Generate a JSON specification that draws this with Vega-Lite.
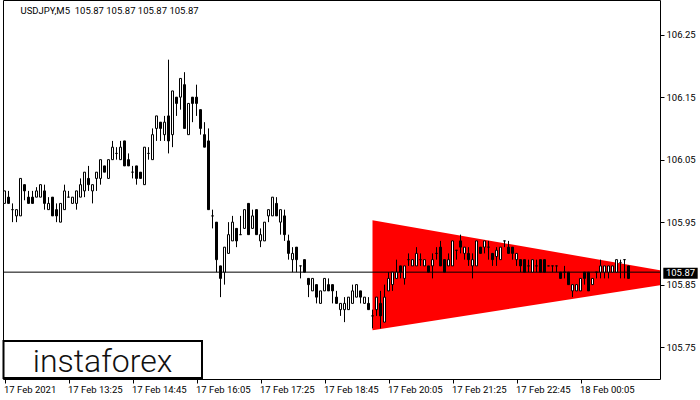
{
  "$schema": "https://vega.github.io/schema/vega-lite/v6.json",
  "width": 657,
  "height": 379,
  "padding": {"left": 2, "top": 0, "right": 0, "bottom": 0},
  "background": "white",
  "config": {
    "view": {"stroke": "black", "strokeWidth": 1}
  },
  "datasets": {
    "candles": [
      {"t":"2021-02-17 12:05","o":105.98,"h":106.00,"l":105.98,"c":106.00},
      {"t":"2021-02-17 12:10","o":105.99,"h":106.00,"l":105.98,"c":105.98},
      {"t":"2021-02-17 12:15","o":105.97,"h":105.98,"l":105.95,"c":105.97},
      {"t":"2021-02-17 12:20","o":105.96,"h":105.97,"l":105.95,"c":105.97},
      {"t":"2021-02-17 12:25","o":105.96,"h":106.02,"l":105.96,"c":106.02},
      {"t":"2021-02-17 12:30","o":106.01,"h":106.01,"l":105.985,"c":106.00},
      {"t":"2021-02-17 12:35","o":105.99,"h":106.00,"l":105.98,"c":105.98},
      {"t":"2021-02-17 12:40","o":105.99,"h":106.00,"l":105.98,"c":105.98},
      {"t":"2021-02-17 12:45","o":105.99,"h":106.006,"l":105.99,"c":106.00},
      {"t":"2021-02-17 12:50","o":105.99,"h":106.01,"l":105.99,"c":106.01},
      {"t":"2021-02-17 12:55","o":106.00,"h":106.01,"l":105.97,"c":105.98},
      {"t":"2021-02-17 13:00","o":105.97,"h":105.99,"l":105.97,"c":105.98},
      {"t":"2021-02-17 13:05","o":105.99,"h":105.99,"l":105.96,"c":105.96},
      {"t":"2021-02-17 13:10","o":105.97,"h":105.98,"l":105.95,"c":105.96},
      {"t":"2021-02-17 13:15","o":105.95,"h":105.98,"l":105.95,"c":105.98},
      {"t":"2021-02-17 13:20","o":105.97,"h":106.01,"l":105.97,"c":106.00},
      {"t":"2021-02-17 13:25","o":105.99,"h":106.00,"l":105.99,"c":105.99},
      {"t":"2021-02-17 13:30","o":105.98,"h":105.99,"l":105.98,"c":105.99},
      {"t":"2021-02-17 13:35","o":105.98,"h":106.00,"l":105.97,"c":106.00},
      {"t":"2021-02-17 13:40","o":105.99,"h":106.02,"l":105.99,"c":106.01},
      {"t":"2021-02-17 13:45","o":106.00,"h":106.03,"l":105.99,"c":106.03},
      {"t":"2021-02-17 13:50","o":106.02,"h":106.04,"l":106.00,"c":106.01},
      {"t":"2021-02-17 13:55","o":106.00,"h":106.01,"l":105.98,"c":106.01},
      {"t":"2021-02-17 14:00","o":106.02,"h":106.03,"l":106.00,"c":106.03},
      {"t":"2021-02-17 14:05","o":106.02,"h":106.05,"l":106.01,"c":106.05},
      {"t":"2021-02-17 14:10","o":106.04,"h":106.04,"l":106.03,"c":106.03},
      {"t":"2021-02-17 14:15","o":106.02,"h":106.05,"l":106.02,"c":106.05},
      {"t":"2021-02-17 14:20","o":106.05,"h":106.08,"l":106.05,"c":106.07},
      {"t":"2021-02-17 14:25","o":106.06,"h":106.07,"l":106.05,"c":106.06},
      {"t":"2021-02-17 14:30","o":106.05,"h":106.08,"l":106.05,"c":106.07},
      {"t":"2021-02-17 14:35","o":106.08,"h":106.08,"l":106.04,"c":106.04},
      {"t":"2021-02-17 14:40","o":106.05,"h":106.06,"l":106.04,"c":106.04},
      {"t":"2021-02-17 14:45","o":106.03,"h":106.04,"l":106.02,"c":106.03},
      {"t":"2021-02-17 14:50","o":106.04,"h":106.04,"l":106.01,"c":106.02},
      {"t":"2021-02-17 14:55","o":106.03,"h":106.03,"l":106.02,"c":106.02},
      {"t":"2021-02-17 15:00","o":106.01,"h":106.07,"l":106.01,"c":106.07},
      {"t":"2021-02-17 15:05","o":106.06,"h":106.07,"l":106.05,"c":106.06},
      {"t":"2021-02-17 15:10","o":106.05,"h":106.10,"l":106.05,"c":106.09},
      {"t":"2021-02-17 15:15","o":106.10,"h":106.12,"l":106.08,"c":106.12},
      {"t":"2021-02-17 15:20","o":106.11,"h":106.11,"l":106.08,"c":106.10},
      {"t":"2021-02-17 15:25","o":106.09,"h":106.12,"l":106.08,"c":106.11},
      {"t":"2021-02-17 15:30","o":106.12,"h":106.21,"l":106.06,"c":106.08},
      {"t":"2021-02-17 15:35","o":106.09,"h":106.16,"l":106.07,"c":106.16},
      {"t":"2021-02-17 15:40","o":106.15,"h":106.15,"l":106.12,"c":106.14},
      {"t":"2021-02-17 15:45","o":106.15,"h":106.18,"l":106.13,"c":106.18},
      {"t":"2021-02-17 15:50","o":106.17,"h":106.19,"l":106.10,"c":106.10},
      {"t":"2021-02-17 15:55","o":106.09,"h":106.14,"l":106.09,"c":106.14},
      {"t":"2021-02-17 16:00","o":106.15,"h":106.15,"l":106.11,"c":106.14},
      {"t":"2021-02-17 16:05","o":106.15,"h":106.17,"l":106.12,"c":106.14},
      {"t":"2021-02-17 16:10","o":106.13,"h":106.13,"l":106.09,"c":106.10},
      {"t":"2021-02-17 16:15","o":106.09,"h":106.11,"l":106.07,"c":106.07},
      {"t":"2021-02-17 16:20","o":106.08,"h":106.10,"l":105.97,"c":105.97},
      {"t":"2021-02-17 16:25","o":105.96,"h":105.97,"l":105.94,"c":105.96},
      {"t":"2021-02-17 16:30","o":105.95,"h":105.95,"l":105.87,"c":105.89},
      {"t":"2021-02-17 16:35","o":105.88,"h":105.88,"l":105.83,"c":105.86},
      {"t":"2021-02-17 16:40","o":105.87,"h":105.91,"l":105.85,"c":105.91},
      {"t":"2021-02-17 16:45","o":105.90,"h":105.95,"l":105.90,"c":105.93},
      {"t":"2021-02-17 16:50","o":105.92,"h":105.96,"l":105.92,"c":105.95},
      {"t":"2021-02-17 16:55","o":105.94,"h":105.94,"l":105.91,"c":105.92},
      {"t":"2021-02-17 17:00","o":105.93,"h":105.96,"l":105.93,"c":105.93},
      {"t":"2021-02-17 17:05","o":105.94,"h":105.97,"l":105.94,"c":105.97},
      {"t":"2021-02-17 17:10","o":105.98,"h":105.98,"l":105.93,"c":105.93},
      {"t":"2021-02-17 17:15","o":105.94,"h":105.97,"l":105.94,"c":105.96},
      {"t":"2021-02-17 17:20","o":105.97,"h":105.97,"l":105.93,"c":105.93},
      {"t":"2021-02-17 17:25","o":105.92,"h":105.94,"l":105.91,"c":105.93},
      {"t":"2021-02-17 17:30","o":105.92,"h":105.95,"l":105.92,"c":105.95},
      {"t":"2021-02-17 17:35","o":105.96,"h":105.97,"l":105.95,"c":105.97},
      {"t":"2021-02-17 17:40","o":105.96,"h":105.99,"l":105.96,"c":105.99},
      {"t":"2021-02-17 17:45","o":105.98,"h":105.99,"l":105.96,"c":105.96},
      {"t":"2021-02-17 17:50","o":105.95,"h":105.97,"l":105.93,"c":105.97},
      {"t":"2021-02-17 17:55","o":105.96,"h":105.97,"l":105.92,"c":105.93},
      {"t":"2021-02-17 18:00","o":105.92,"h":105.93,"l":105.89,"c":105.90},
      {"t":"2021-02-17 18:05","o":105.89,"h":105.91,"l":105.87,"c":105.90},
      {"t":"2021-02-17 18:10","o":105.91,"h":105.91,"l":105.87,"c":105.89},
      {"t":"2021-02-17 18:15","o":105.88,"h":105.88,"l":105.86,"c":105.88},
      {"t":"2021-02-17 18:20","o":105.89,"h":105.89,"l":105.87,"c":105.87},
      {"t":"2021-02-17 18:25","o":105.86,"h":105.86,"l":105.83,"c":105.85},
      {"t":"2021-02-17 18:30","o":105.84,"h":105.86,"l":105.84,"c":105.86},
      {"t":"2021-02-17 18:35","o":105.85,"h":105.85,"l":105.82,"c":105.83},
      {"t":"2021-02-17 18:40","o":105.82,"h":105.84,"l":105.82,"c":105.84},
      {"t":"2021-02-17 18:45","o":105.84,"h":105.86,"l":105.84,"c":105.86},
      {"t":"2021-02-17 18:50","o":105.85,"h":105.86,"l":105.84,"c":105.84},
      {"t":"2021-02-17 18:55","o":105.85,"h":105.85,"l":105.82,"c":105.84},
      {"t":"2021-02-17 19:00","o":105.83,"h":105.84,"l":105.82,"c":105.82},
      {"t":"2021-02-17 19:05","o":105.81,"h":105.82,"l":105.80,"c":105.82},
      {"t":"2021-02-17 19:10","o":105.81,"h":105.83,"l":105.79,"c":105.82},
      {"t":"2021-02-17 19:15","o":105.81,"h":105.83,"l":105.81,"c":105.83},
      {"t":"2021-02-17 19:20","o":105.82,"h":105.85,"l":105.82,"c":105.84},
      {"t":"2021-02-17 19:25","o":105.83,"h":105.85,"l":105.83,"c":105.85},
      {"t":"2021-02-17 19:30","o":105.84,"h":105.84,"l":105.82,"c":105.83},
      {"t":"2021-02-17 19:35","o":105.82,"h":105.83,"l":105.82,"c":105.83},
      {"t":"2021-02-17 19:40","o":105.82,"h":105.83,"l":105.81,"c":105.81},
      {"t":"2021-02-17 19:45","o":105.80,"h":105.81,"l":105.78,"c":105.80},
      {"t":"2021-02-17 19:50","o":105.81,"h":105.83,"l":105.80,"c":105.83},
      {"t":"2021-02-17 19:55","o":105.82,"h":105.84,"l":105.78,"c":105.80},
      {"t":"2021-02-17 20:00","o":105.79,"h":105.85,"l":105.79,"c":105.83},
      {"t":"2021-02-17 20:05","o":105.84,"h":105.87,"l":105.84,"c":105.86},
      {"t":"2021-02-17 20:10","o":105.85,"h":105.87,"l":105.84,"c":105.87},
      {"t":"2021-02-17 20:15","o":105.86,"h":105.89,"l":105.86,"c":105.87},
      {"t":"2021-02-17 20:20","o":105.88,"h":105.88,"l":105.86,"c":105.87},
      {"t":"2021-02-17 20:25","o":105.86,"h":105.88,"l":105.85,"c":105.88},
      {"t":"2021-02-17 20:30","o":105.89,"h":105.90,"l":105.88,"c":105.89},
      {"t":"2021-02-17 20:35","o":105.88,"h":105.89,"l":105.88,"c":105.89},
      {"t":"2021-02-17 20:40","o":105.88,"h":105.91,"l":105.88,"c":105.90},
      {"t":"2021-02-17 20:45","o":105.89,"h":105.90,"l":105.88,"c":105.89},
      {"t":"2021-02-17 20:50","o":105.88,"h":105.89,"l":105.88,"c":105.89},
      {"t":"2021-02-17 20:55","o":105.88,"h":105.88,"l":105.87,"c":105.87},
      {"t":"2021-02-17 21:00","o":105.88,"h":105.90,"l":105.86,"c":105.89},
      {"t":"2021-02-17 21:05","o":105.90,"h":105.91,"l":105.89,"c":105.90},
      {"t":"2021-02-17 21:10","o":105.91,"h":105.92,"l":105.88,"c":105.88},
      {"t":"2021-02-17 21:15","o":105.89,"h":105.89,"l":105.87,"c":105.87},
      {"t":"2021-02-17 21:20","o":105.88,"h":105.90,"l":105.88,"c":105.89},
      {"t":"2021-02-17 21:25","o":105.88,"h":105.92,"l":105.88,"c":105.92},
      {"t":"2021-02-17 21:30","o":105.905,"h":105.905,"l":105.89,"c":105.905},
      {"t":"2021-02-17 21:35","o":105.92,"h":105.93,"l":105.90,"c":105.91},
      {"t":"2021-02-17 21:40","o":105.90,"h":105.91,"l":105.89,"c":105.91},
      {"t":"2021-02-17 21:45","o":105.90,"h":105.91,"l":105.88,"c":105.89},
      {"t":"2021-02-17 21:50","o":105.88,"h":105.90,"l":105.86,"c":105.89},
      {"t":"2021-02-17 21:55","o":105.88,"h":105.92,"l":105.88,"c":105.92},
      {"t":"2021-02-17 22:00","o":105.91,"h":105.91,"l":105.90,"c":105.90},
      {"t":"2021-02-17 22:05","o":105.91,"h":105.92,"l":105.90,"c":105.92},
      {"t":"2021-02-17 22:10","o":105.91,"h":105.92,"l":105.89,"c":105.91},
      {"t":"2021-02-17 22:15","o":105.90,"h":105.90,"l":105.88,"c":105.89},
      {"t":"2021-02-17 22:20","o":105.895,"h":105.91,"l":105.88,"c":105.905},
      {"t":"2021-02-17 22:25","o":105.89,"h":105.91,"l":105.89,"c":105.91},
      {"t":"2021-02-17 22:30","o":105.92,"h":105.92,"l":105.91,"c":105.92},
      {"t":"2021-02-17 22:35","o":105.91,"h":105.92,"l":105.90,"c":105.90},
      {"t":"2021-02-17 22:40","o":105.91,"h":105.91,"l":105.89,"c":105.90},
      {"t":"2021-02-17 22:45","o":105.89,"h":105.90,"l":105.88,"c":105.90},
      {"t":"2021-02-17 22:50","o":105.89,"h":105.89,"l":105.87,"c":105.88},
      {"t":"2021-02-17 22:55","o":105.89,"h":105.89,"l":105.87,"c":105.87},
      {"t":"2021-02-17 23:00","o":105.88,"h":105.89,"l":105.87,"c":105.88},
      {"t":"2021-02-17 23:05","o":105.87,"h":105.89,"l":105.87,"c":105.89},
      {"t":"2021-02-17 23:10","o":105.88,"h":105.89,"l":105.87,"c":105.88},
      {"t":"2021-02-17 23:15","o":105.89,"h":105.89,"l":105.87,"c":105.87},
      {"t":"2021-02-17 23:20","o":105.89,"h":105.89,"l":105.87,"c":105.87},
      {"t":"2021-02-17 23:25","o":105.88,"h":105.88,"l":105.88,"c":105.88},
      {"t":"2021-02-17 23:30","o":105.88,"h":105.88,"l":105.87,"c":105.88},
      {"t":"2021-02-17 23:35","o":105.88,"h":105.88,"l":105.87,"c":105.88},
      {"t":"2021-02-17 23:40","o":105.87,"h":105.87,"l":105.86,"c":105.86},
      {"t":"2021-02-17 23:45","o":105.87,"h":105.88,"l":105.86,"c":105.87},
      {"t":"2021-02-17 23:50","o":105.87,"h":105.87,"l":105.85,"c":105.85},
      {"t":"2021-02-17 23:55","o":105.84,"h":105.85,"l":105.83,"c":105.85},
      {"t":"2021-02-18 00:00","o":105.84,"h":105.85,"l":105.84,"c":105.85},
      {"t":"2021-02-18 00:05","o":105.84,"h":105.86,"l":105.84,"c":105.86},
      {"t":"2021-02-18 00:10","o":105.87,"h":105.87,"l":105.85,"c":105.86},
      {"t":"2021-02-18 00:15","o":105.87,"h":105.87,"l":105.84,"c":105.84},
      {"t":"2021-02-18 00:20","o":105.85,"h":105.86,"l":105.85,"c":105.86},
      {"t":"2021-02-18 00:25","o":105.87,"h":105.87,"l":105.86,"c":105.87},
      {"t":"2021-02-18 00:30","o":105.87,"h":105.89,"l":105.86,"c":105.88},
      {"t":"2021-02-18 00:35","o":105.87,"h":105.88,"l":105.86,"c":105.88},
      {"t":"2021-02-18 00:40","o":105.87,"h":105.88,"l":105.86,"c":105.88},
      {"t":"2021-02-18 00:45","o":105.87,"h":105.88,"l":105.87,"c":105.88},
      {"t":"2021-02-18 00:50","o":105.87,"h":105.89,"l":105.87,"c":105.89},
      {"t":"2021-02-18 00:55","o":105.885,"h":105.89,"l":105.86,"c":105.885},
      {"t":"2021-02-18 01:00","o":105.89,"h":105.89,"l":105.86,"c":105.89},
      {"t":"2021-02-18 01:05","o":105.88,"h":105.88,"l":105.86,"c":105.86}
    ],
    "triangle": [
      {"t":"2021-02-17 19:45","top":105.953,"bottom":105.777},
      {"t":"2021-02-18 01:45","top":105.873,"bottom":105.849}
    ]
  },
  "layer": [
    {
      "data": {"name": "triangle"},
      "mark": {"type": "area", "color": "#FF0000", "clip": true, "opacity": 1},
      "encoding": {
        "x": {"field": "t", "type": "temporal", "title": null,
              "scale": {"nice": false, "padding": 0, "domain": [{"year":2021,"month":2,"date":17,"hours":12,"minutes":3,"seconds":7,"milliseconds":500},{"year":2021,"month":2,"date":18,"hours":1,"minutes":44,"seconds":22,"milliseconds":500}]},
              "axis": {
                "values": [
                  {"year":2021,"month":2,"date":17,"hours":12,"minutes":5},
                  {"year":2021,"month":2,"date":17,"hours":13,"minutes":25},
                  {"year":2021,"month":2,"date":17,"hours":14,"minutes":45},
                  {"year":2021,"month":2,"date":17,"hours":16,"minutes":5},
                  {"year":2021,"month":2,"date":17,"hours":17,"minutes":25},
                  {"year":2021,"month":2,"date":17,"hours":18,"minutes":45},
                  {"year":2021,"month":2,"date":17,"hours":20,"minutes":5},
                  {"year":2021,"month":2,"date":17,"hours":21,"minutes":25},
                  {"year":2021,"month":2,"date":17,"hours":22,"minutes":45},
                  {"year":2021,"month":2,"date":18,"hours":0,"minutes":5}
                ],
                "labelExpr": "hours(datum.value) == 12 ? '17 Feb 2021' : timeFormat(datum.value, '%d %b %H:%M')",
                "labelAlign": "left",
                "labelBaseline": "top",
                "labelPadding": 1,
                "labelOffset": -1,
                "labelFont": "Roboto", "labelFontSize": 9.5, "labelColor": "black", "tickColor": "black",
                "domain": false, "grid": false, "tickSize": 4, "labelOverlap": false, "labelFlush": false
              }},
        "y": {"field": "top", "type": "quantitative", "title": null,
              "scale": {"domain": [105.699, 106.3055], "nice": false, "zero": false},
              "axis": {"orient": "right", "values": [105.75, 105.85, 105.95, 106.05, 106.15, 106.25], "format": ".2f", "labelPadding": 2,
                       "labelFont": "Roboto", "labelFontSize": 9.5, "labelColor": "black", "tickColor": "black",
                       "domain": false, "grid": false, "tickSize": 4}},
        "y2": {"field": "bottom"}
      }
    },
    {
      "data": {"values": [{}]},
      "mark": {"type": "rule", "color": "black", "strokeWidth": 1},
      "encoding": {
        "x": {"datum": {"year":2021,"month":2,"date":17,"hours":12,"minutes":3,"seconds":7,"milliseconds":500}, "type": "temporal", "title": null},
        "x2": {"datum": {"year":2021,"month":2,"date":18,"hours":1,"minutes":44,"seconds":22,"milliseconds":500}},
        "y": {"datum": 105.87, "type": "quantitative", "title": null}
      }
    },
    {
      "data": {"name": "candles"},
      "mark": {"type": "rule", "color": "black", "strokeWidth": 1, "clip": true},
      "encoding": {
        "x": {"field": "t", "type": "temporal", "title": null},
        "y": {"field": "l", "type": "quantitative", "title": null},
        "y2": {"field": "h"}
      }
    },
    {
      "data": {"name": "candles"},
      "mark": {"type": "bar", "width": 2, "stroke": "black", "strokeWidth": 1, "clip": true},
      "encoding": {
        "x": {"field": "t", "type": "temporal", "title": null},
        "y": {"field": "o", "type": "quantitative", "title": null},
        "y2": {"field": "c"},
        "fill": {"condition": {"test": "datum.c > datum.o", "value": "white"}, "value": "black"}
      }
    },
    {
      "data": {"values": [{}]},
      "mark": {"type": "rect", "fill": "white", "stroke": "black", "strokeWidth": 2, "clip": false},
      "encoding": {
        "x": {"datum": {"year":2021,"month":2,"date":17,"hours":12,"minutes":3,"seconds":45}, "type": "temporal", "title": null},
        "x2": {"datum": {"year":2021,"month":2,"date":17,"hours":16,"minutes":11,"seconds":52}},
        "y": {"datum": 105.760, "type": "quantitative", "title": null},
        "y2": {"datum": 105.7005}
      }
    },
    {
      "data": {"values": [{"label": "instaforex"}]},
      "mark": {"type": "text", "font": "Roboto", "fontSize": 32, "fontWeight": 300, "color": "#111111", "align": "left", "baseline": "alphabetic"},
      "encoding": {
        "x": {"datum": {"year":2021,"month":2,"date":17,"hours":12,"minutes":40,"seconds":15}, "type": "temporal", "title": null},
        "y": {"datum": 105.7108, "type": "quantitative", "title": null},
        "text": {"field": "label"}
      }
    },
    {
      "data": {"values": [{"label": "USDJPY,M5\u00a0 105.87 105.87 105.87 105.87"}]},
      "mark": {"type": "text", "font": "Roboto", "fontSize": 9.5, "color": "black", "align": "left", "baseline": "alphabetic"},
      "encoding": {
        "x": {"datum": {"year":2021,"month":2,"date":17,"hours":12,"minutes":25}, "type": "temporal", "title": null},
        "y": {"datum": 106.2831, "type": "quantitative", "title": null},
        "text": {"field": "label"}
      }
    },
    {
      "data": {"values": [{}]},
      "mark": {"type": "rect", "fill": "black", "clip": false},
      "encoding": {
        "x": {"datum": {"year":2021,"month":2,"date":18,"hours":1,"minutes":48,"seconds":30}, "type": "temporal", "title": null},
        "x2": {"datum": {"year":2021,"month":2,"date":18,"hours":2,"minutes":31,"seconds":30}},
        "y": {"datum": 105.8772, "type": "quantitative", "title": null},
        "y2": {"datum": 105.8596}
      }
    },
    {
      "data": {"values": [{"label": "105.87"}]},
      "mark": {"type": "text", "font": "Roboto", "fontSize": 9.5, "color": "white", "align": "center", "baseline": "middle", "clip": false},
      "encoding": {
        "x": {"datum": {"year":2021,"month":2,"date":18,"hours":2,"minutes":10}, "type": "temporal", "title": null},
        "y": {"datum": 105.8684, "type": "quantitative", "title": null},
        "text": {"field": "label"}
      }
    }
  ]
}
